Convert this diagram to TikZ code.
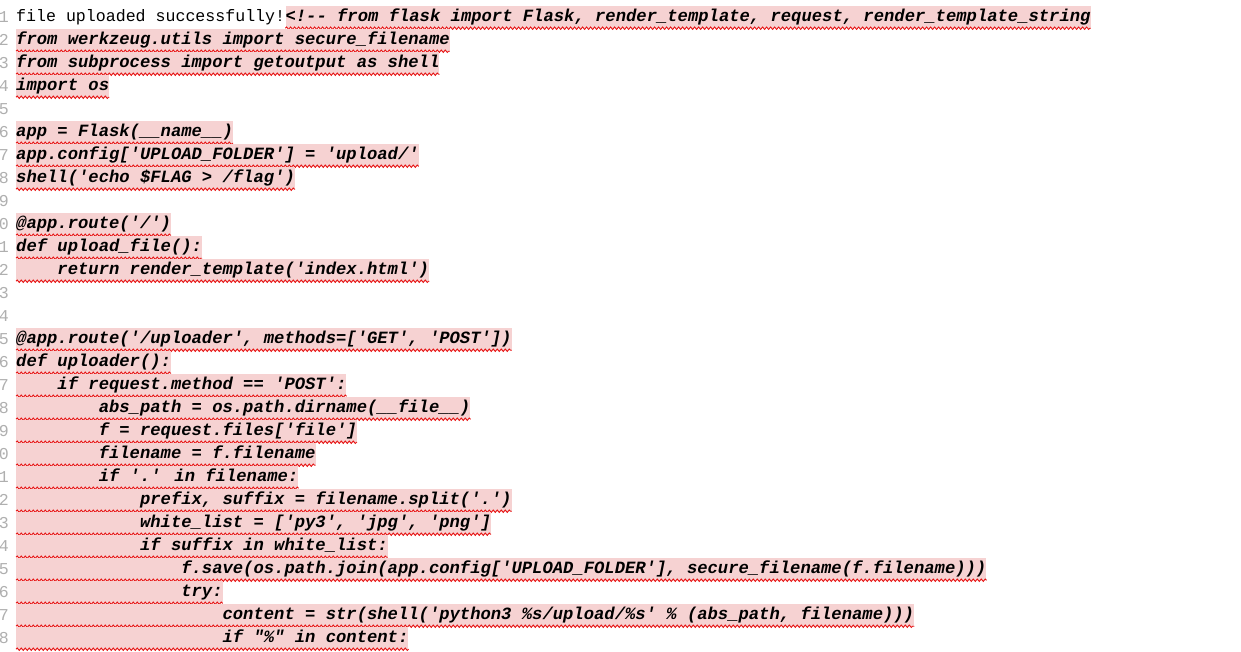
\documentclass[tikz,border=0pt]{standalone}
\usepackage{fontspec}
\usetikzlibrary{decorations.pathmorphing}
\newfontfamily\codefont{Liberation Mono}
\definecolor{hl}{RGB}{246,210,210}
\definecolor{wav}{RGB}{230,20,20}
\definecolor{lnum}{RGB}{175,175,175}
\tikzset{
 hlbox/.style={anchor=west,inner xsep=0pt,inner ysep=0pt,fill=hl,text height=15pt,text depth=7pt,font=\codefont\fontsize{17.2}{18}\selectfont\bfseries\itshape},
 plain/.style={anchor=west,inner xsep=0pt,inner ysep=0pt,text height=15pt,text depth=7pt,font=\codefont\fontsize{16.6}{18}\selectfont},
 num/.style={anchor=east,inner sep=0pt,text=lnum,font=\codefont\fontsize{16.6}{18}\selectfont},
 wavy/.style={draw=wav,line width=0.9pt,decorate,decoration={snake,amplitude=1.2pt,segment length=4pt}}
}
\newcommand\codeline[3]{%
 \node[hlbox] (l#1) at (16,{17+23*(#1-1)}) {\hspace*{#2\dimexpr 0.6em\relax}#3};
 \draw[wavy] (l#1.south west) -- (l#1.south east);
}
\begin{document}
\begin{tikzpicture}[x=1pt,y=-1pt]
\useasboundingbox (0,0) rectangle (1241,651);
\foreach \n in {1,...,28}{
 \pgfmathtruncatemacro\d{mod(\n,10)}
 \node[num] (n\n) at (9,{17+23*(\n-1)}) {\d};
}
\node[plain] (p1) at (16,17) {file uploaded successfully!};
\node[hlbox] (l1) at (p1.east) {<!-- from flask import Flask, render\_template, request, render\_template\_string};
\draw[wavy] (l1.south west) -- (l1.south east);
\codeline{2}{0}{from werkzeug.utils import secure\_filename}
\codeline{3}{0}{from subprocess import getoutput as shell}
\codeline{4}{0}{import os}
\codeline{6}{0}{app = Flask(\_\_name\_\_)}
\codeline{7}{0}{app.config['UPLOAD\_FOLDER'] = 'upload/'}
\codeline{8}{0}{shell('echo \$FLAG > /flag')}
\codeline{10}{0}{@app.route('/')}
\codeline{11}{0}{def upload\_file():}
\codeline{12}{4}{return render\_template('index.html')}
\codeline{15}{0}{@app.route('/uploader', methods=['GET', 'POST'])}
\codeline{16}{0}{def uploader():}
\codeline{17}{4}{if request.method == 'POST':}
\codeline{18}{8}{abs\_path = os.path.dirname(\_\_file\_\_)}
\codeline{19}{8}{f = request.files['file']}
\codeline{20}{8}{filename = f.filename}
\codeline{21}{8}{if '.' in filename:}
\codeline{22}{12}{prefix, suffix = filename.split('.')}
\codeline{23}{12}{white\_list = ['py3', 'jpg', 'png']}
\codeline{24}{12}{if suffix in white\_list:}
\codeline{25}{16}{f.save(os.path.join(app.config['UPLOAD\_FOLDER'], secure\_filename(f.filename)))}
\codeline{26}{16}{try:}
\codeline{27}{20}{content = str(shell('python3 \%s/upload/\%s' \% (abs\_path, filename)))}
\codeline{28}{20}{if "\%" in content:}
\end{tikzpicture}
\end{document}
